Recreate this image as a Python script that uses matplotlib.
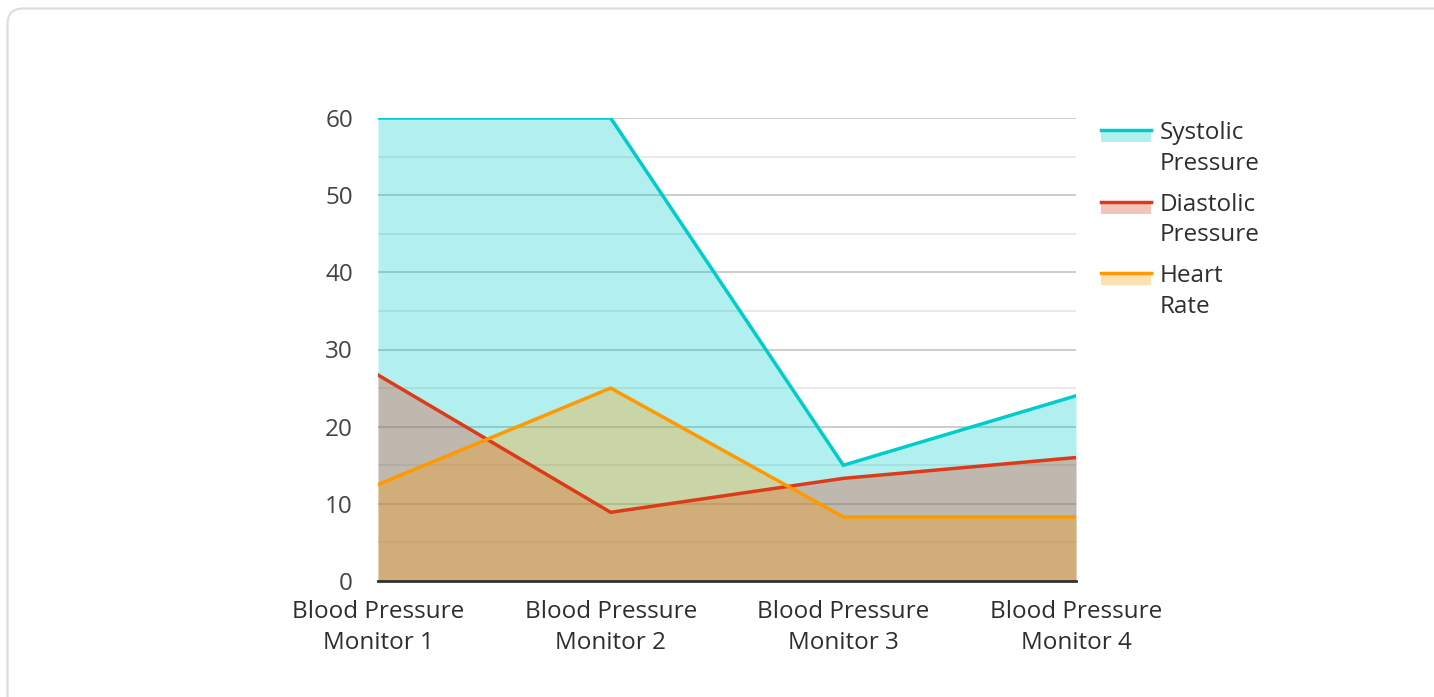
#!/usr/bin/env python3
"""Blood pressure monitors: area chart of systolic / diastolic / heart rate."""

import matplotlib.pyplot as plt
from matplotlib.patches import FancyBboxPatch, Rectangle
from matplotlib.lines import Line2D

categories = ["Blood Pressure\nMonitor 1", "Blood Pressure\nMonitor 2",
              "Blood Pressure\nMonitor 3", "Blood Pressure\nMonitor 4"]
systolic = [60, 60, 15, 24]
diastolic = [26.7, 8.9, 13.3, 16]
heart_rate = [12.5, 25, 8.3, 8.3]

series = [
    ("Systolic\nPressure", systolic, "#00CCCC"),
    ("Diastolic\nPressure", diastolic, "#DD3A1A"),
    ("Heart\nRate", heart_rate, "#FF9900"),
]

plt.rcParams["font.family"] = ["Open Sans", "DejaVu Sans"]
FS = 17.5
LS = 1.38

W, H = 1434, 697
fig = plt.figure(figsize=(W / 100, H / 100), dpi=100)

# card border
card = FancyBboxPatch((7.5 / W, -0.05), (W + 20) / W, (697 - 8.5) / H + 0.05,
                      boxstyle="round,pad=0,rounding_size=0.011",
                      transform=fig.transFigure, facecolor="white",
                      edgecolor="#dcdcdc", lw=1.5, mutation_aspect=W / H,
                      zorder=-5)
fig.patches.append(card)

ax = fig.add_axes([378 / W, 1 - 581 / H, (1076 - 378) / W, (581 - 118) / H])
ax.set_facecolor("none")
xs = list(range(len(categories)))

for label, vals, color in series:
    ax.fill_between(xs, 0, vals, color=color, alpha=0.3, lw=0, zorder=2)
for label, vals, color in series:
    ax.plot(xs, vals, color=color, lw=2.5, zorder=4, solid_joinstyle="miter")

ax.set_xlim(0, 3)
ax.set_ylim(0, 60)
ax.set_yticks(range(0, 61, 10))
ax.set_yticks(range(5, 60, 10), minor=True)
ax.grid(True, which="major", axis="y", color="#c4c4c4", lw=1.2, zorder=3)
ax.grid(True, which="minor", axis="y", color="#e6e6e6", lw=1.2, zorder=3)
ax.set_xticks(xs)
ax.set_xticklabels(categories, fontsize=FS, color="#2e2e2e", linespacing=LS)
ax.tick_params(axis="y", which="both", length=0, labelsize=FS, labelcolor="#444444", pad=18)
ax.tick_params(axis="x", length=0, pad=14)
for side in ("left", "right", "top"):
    ax.spines[side].set_visible(False)
ax.spines["bottom"].set_color("#333333")
ax.spines["bottom"].set_linewidth(2)
ax.spines["bottom"].set_zorder(5)

# legend, drawn by hand so the swatch sits next to the first label line
for i, (label, vals, color) in enumerate(series):
    yc = 130 + i * 71.5
    fig.patches.append(Rectangle((1101 / W, 1 - (yc + 12) / H), 50 / W, 12 / H,
                                 transform=fig.transFigure, facecolor=color,
                                 alpha=0.3, lw=0))
    fig.lines.append(Line2D([1101 / W, 1151 / W], [1 - yc / H] * 2,
                            transform=fig.transFigure, color=color, lw=2.5))
    fig.text(1160 / W, 1 - (yc + 40) / H, label, fontsize=FS, color="#2e2e2e",
             va="baseline", ha="left", linespacing=LS)

fig.savefig("out.png", dpi=100)
